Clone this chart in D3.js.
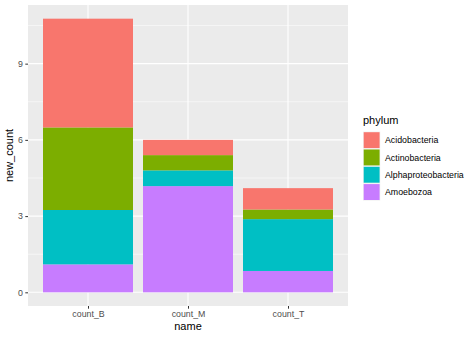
<!DOCTYPE html>
<html>
<head>
<meta charset="utf-8">
<script src="https://cdn.jsdelivr.net/npm/d3@7"></script>
<style>
  html, body { margin: 0; padding: 0; background: #fff; }
  svg { display: block; font-family: "Liberation Sans", Arial, sans-serif; }
</style>
</head>
<body>
<svg id="chart" width="474" height="338"></svg>
<script>
// Sample columns along the x axis
const names = ["count_B", "count_M", "count_T"];
// Phylum levels, in legend order
const phyla = ["Acidobacteria", "Actinobacteria", "Alphaproteobacteria", "Amoebozoa"];
const phylumColors = ["#F8766D", "#7CAE00", "#00BFC4", "#C77CFF"];
// Counts per phylum, one value per sample column
const acidobacteria = [4.28, 0.60, 0.84];
const actinobacteria = [3.25, 0.60, 0.38];
const alphaproteobacteria = [2.14, 0.62, 2.04];
const amoebozoa = [1.10, 4.18, 0.84];
// Y axis ticks
const yTicks = [0, 3, 6, 9];

const rows = names.map((n, i) => ({
  name: n,
  Acidobacteria: acidobacteria[i],
  Actinobacteria: actinobacteria[i],
  Alphaproteobacteria: alphaproteobacteria[i],
  Amoebozoa: amoebozoa[i]
}));

const svg = d3.select("#chart");
const panel = { left: 28, right: 348, top: 5, bottom: 306 };

// Stack with the last level at the bottom
const stack = d3.stack().keys(phyla.slice().reverse());
const series = stack(rows);
const maxTotal = d3.max(rows, r => phyla.reduce((s, k) => s + r[k], 0));

const y = d3.scaleLinear()
  .domain([-0.05 * maxTotal, 1.05 * maxTotal])
  .range([panel.bottom, panel.top]);

// Discrete scale with 0.6 unit padding on each side
const step = (panel.right - panel.left) / (names.length - 1 + 1.2);
const x = d3.scalePoint().domain(names)
  .range([panel.left + 0.6 * step, panel.right - 0.6 * step]);
const barW = 0.9 * step;

const color = d3.scaleOrdinal().domain(phyla).range(phylumColors);

// Panel background
svg.append("rect")
  .attr("x", panel.left).attr("y", panel.top)
  .attr("width", panel.right - panel.left).attr("height", panel.bottom - panel.top)
  .attr("fill", "#EBEBEB");

// Minor grid
const minor = [];
for (let i = 0; i < yTicks.length; i++) {
  const m = yTicks[i] + 1.5;
  if (y(m) > panel.top) minor.push(m);
}
svg.append("g").selectAll("line").data(minor).join("line")
  .attr("x1", panel.left).attr("x2", panel.right)
  .attr("y1", d => y(d)).attr("y2", d => y(d))
  .attr("stroke", "#fff").attr("stroke-width", 0.55);

// Major grid
svg.append("g").selectAll("line").data(yTicks).join("line")
  .attr("x1", panel.left).attr("x2", panel.right)
  .attr("y1", d => y(d)).attr("y2", d => y(d))
  .attr("stroke", "#fff").attr("stroke-width", 1.1);
svg.append("g").selectAll("line").data(names).join("line")
  .attr("x1", d => x(d)).attr("x2", d => x(d))
  .attr("y1", panel.top).attr("y2", panel.bottom)
  .attr("stroke", "#fff").attr("stroke-width", 1.1);

// Bars
svg.append("g").selectAll("g").data(series).join("g")
  .attr("fill", d => color(d.key))
  .selectAll("rect").data(d => d).join("rect")
  .attr("x", d => x(d.data.name) - barW / 2)
  .attr("width", barW)
  .attr("y", d => y(d[1]))
  .attr("height", d => y(d[0]) - y(d[1]));

// Y axis
const yAxis = svg.append("g")
  .attr("transform", `translate(${panel.left},0)`)
  .call(d3.axisLeft(y).tickValues(yTicks).tickSize(2.7).tickPadding(2.5).tickFormat(d3.format("d")));
yAxis.select(".domain").remove();
yAxis.selectAll("line").attr("stroke", "#333");
yAxis.selectAll("text").attr("fill", "#4D4D4D").style("font-size", "8.8px");

// X axis
const xAxis = svg.append("g")
  .attr("transform", `translate(0,${panel.bottom})`)
  .call(d3.axisBottom(x).tickSize(2.7).tickPadding(2.5));
xAxis.select(".domain").remove();
xAxis.selectAll("line").attr("stroke", "#333");
xAxis.selectAll("text").attr("fill", "#4D4D4D").style("font-size", "8.8px");

// Axis titles
svg.append("text")
  .attr("x", (panel.left + panel.right) / 2).attr("y", 330)
  .attr("text-anchor", "middle").style("font-size", "11px").attr("fill", "#000")
  .text("name");
svg.append("text")
  .attr("transform", `translate(13,${(panel.top + panel.bottom) / 2}) rotate(-90)`)
  .attr("text-anchor", "middle").style("font-size", "11px").attr("fill", "#000")
  .text("new_count");

// Legend
const legend = svg.append("g").attr("transform", "translate(363,0)");
legend.append("text").attr("x", 0).attr("y", 124)
  .style("font-size", "11px").attr("fill", "#000").text("phylum");
const item = legend.selectAll("g.item").data(phyla).join("g")
  .attr("class", "item")
  .attr("transform", (d, i) => `translate(0,${131.5 + i * 17.3})`);
item.append("rect").attr("width", 17.3).attr("height", 17.3).attr("fill", "#F2F2F2");
item.append("rect").attr("x", 0.7).attr("y", 0.7).attr("width", 15.9).attr("height", 15.9)
  .attr("fill", d => color(d));
item.append("text").attr("x", 22).attr("y", 11.8)
  .style("font-size", "8.8px").attr("fill", "#000").text(d => d);
</script>
</body>
</html>
